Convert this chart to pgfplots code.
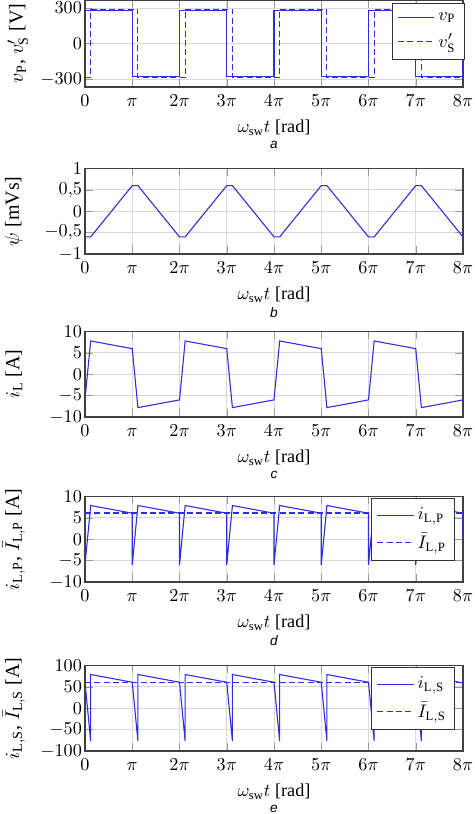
\documentclass[border=0pt]{standalone}
\usepackage{fontspec}
\setmainfont{Liberation Serif}
\newfontfamily\capfont{Liberation Sans}
\usepackage{pgfplots}
\pgfplotsset{compat=1.18}
\definecolor{mblue}{RGB}{45,45,225}
\pgfplotsset{
  myax/.style={
    scale only axis, width=207.9pt, height=47pt,
    xmin=0, xmax=8, xtick={0,1,...,8},
    xticklabels={$0$,$\pi$,$2\pi$,$3\pi$,$4\pi$,$5\pi$,$6\pi$,$7\pi$,$8\pi$},
    xticklabel style={text height=1.6ex},
    grid=major, grid style={black!15, line width=0.5pt},
    axis line style={black!75, line width=0.6pt},
    tick style={black!40},
    xlabel={$\omega_{\mathrm{sw}}t$ [rad]},
    every axis x label/.style={at={(rel axis cs:0.5,0)}, anchor=center, yshift=-22.5pt},
    every axis y label/.style={at={(rel axis cs:-0.188,0.5)}, anchor=center, rotate=90, font=\fontsize{11}{13}\selectfont},
    yticklabel style={inner xsep=1.5pt},
    legend style={draw=black!80, line width=0.6pt, font=\normalsize, at={(0.98,0.98)}, anchor=north east,
      row sep=2pt, inner xsep=3pt, inner ysep=3pt},
    legend cell align=left,
  },
  myline/.style={color=mblue, draw=mblue, line width=0.6pt, mark=none, solid,
    legend image code/.code={\draw[draw=mblue, line width=0.6pt, solid] (0cm,0cm) -- (0.7cm,0cm);}},
  mydash/.style={color=mblue, draw=mblue, line width=0.6pt, mark=none, dash pattern=on 3.3pt off 1.8pt,
    legend image code/.code={\draw[draw=mblue, line width=0.6pt, dash pattern=on 3.3pt off 1.8pt] (0cm,0cm) -- (0.7cm,0cm);}},
}
\newcommand{\subcap}[2]{\node[font=\capfont\itshape\fontsize{7.5}{9}\selectfont] at ([yshift=-32pt]#1.south) {#2};}
\begin{document}
\begin{tikzpicture}
\path[use as bounding box] (0,0) rectangle (260.7pt,-447.7pt);
% (a)
\begin{axis}[myax, name=pa, at={(46.75pt,-47.85pt)}, anchor=south west, height=47.85pt,
  ymin=-368, ymax=368, ytick={-300,0,300},
  ylabel={$v_\mathrm{P}$, $v'_\mathrm{S}$ [V]},
  every axis y label/.append style={at={(rel axis cs:-0.178,0.5)}},
  legend style={at={(1.005,0.97)}}]
\addplot[myline] coordinates {(0,280) (1,280) (1,-280) (2,-280) (2,280) (3,280) (3,-280) (4,-280) (4,280) (5,280) (5,-280) (6,-280) (6,280) (7,280) (7,-280) (8,-280) (8,0)};
\addlegendentry{$v_\mathrm{P}$}
\addplot[mydash] coordinates {(0,-290) (0.12,-290) (0.12,290) (1.12,290) (1.12,-290) (2.12,-290) (2.12,290) (3.12,290) (3.12,-290) (4.12,-290) (4.12,290) (5.12,290) (5.12,-290) (6.12,-290) (6.12,290) (7.12,290) (7.12,-290) (8,-290)};
\addlegendentry{$v'_\mathrm{S}$}
\end{axis}
\subcap{pa}{a}
% (b)
\begin{axis}[myax, name=pb, at={(46.75pt,-139.7pt)}, anchor=south west,
  ymin=-1, ymax=1, ytick={-1,-0.5,0,0.5,1},
  yticklabel style={/pgf/number format/use comma},
  ylabel={$\psi$ [mVs]}]
\addplot[myline] coordinates {(0,-0.6) (0.12,-0.6) (1,0.6) (1.12,0.6) (2,-0.6) (2.12,-0.6) (3,0.6) (3.12,0.6) (4,-0.6) (4.12,-0.6) (5,0.6) (5.12,0.6) (6,-0.6) (6.12,-0.6) (7,0.6) (7.12,0.6) (8,-0.6)};
\end{axis}
\subcap{pb}{b}
% (c)
\begin{axis}[myax, name=pc, at={(46.75pt,-229.35pt)}, anchor=south west,
  ymin=-10, ymax=10, ytick={-10,-5,0,5,10},
  ylabel={$i_\mathrm{L}$ [A]}]
\addplot[myline] coordinates {(0,-5.8) (0.12,7.8) (1,6) (1.12,-7.8) (2,-6) (2.12,7.8) (3,6) (3.12,-7.8) (4,-6) (4.12,7.8) (5,6) (5.12,-7.8) (6,-6) (6.12,7.8) (7,6) (7.12,-7.8) (8,-6)};
\end{axis}
\subcap{pc}{c}
% (d)
\begin{axis}[myax, name=pd, at={(46.75pt,-320.1pt)}, anchor=south west,
  ymin=-10, ymax=10, ytick={-10,-5,0,5,10},
  ylabel={$i_\mathrm{L,P}$, $\bar{I}_\mathrm{L,P}$ [A]}]
\addplot[myline] coordinates {(0,-6) (0.12,7.9) (1,6.1) (1,-6) (1.12,7.9) (2,6.1) (2,-6) (2.12,7.9) (3,6.1) (3,-6) (3.12,7.9) (4,6.1) (4,-6) (4.12,7.9) (5,6.1) (5,-6) (5.12,7.9) (6,6.1) (6,-6) (6.12,7.9) (7,6.1) (7,-6) (7.12,7.9) (8,6.1) (8,0)};
\addlegendentry{$i_\mathrm{L,P}$}
\addplot[mydash] coordinates {(0,6.15) (8,6.15)};
\addlegendentry{$\bar{I}_\mathrm{L,P}$}
\end{axis}
\subcap{pd}{d}
% (e)
\begin{axis}[myax, name=pe, at={(46.75pt,-413.05pt)}, anchor=south west,
  ymin=-100, ymax=100, ytick={-100,-50,0,50,100},
  ylabel={$i_\mathrm{L,S}$, $\bar{I}_\mathrm{L,S}$ [A]}]
\addplot[myline] coordinates {(0,61) (0.12,-77) (0.12,79) (1,61) (1.12,-77) (1.12,79) (2,61) (2.12,-77) (2.12,79) (3,61) (3.12,-77) (3.12,79) (4,61) (4.12,-77) (4.12,79) (5,61) (5.12,-77) (5.12,79) (6,61) (6.12,-77) (6.12,79) (7,61) (7.12,-77) (7.12,79) (8,59)};
\addlegendentry{$i_\mathrm{L,S}$}
\addplot[mydash] coordinates {(0,61) (8,61)};
\addlegendentry{$\bar{I}_\mathrm{L,S}$}
\end{axis}
\subcap{pe}{e}
\end{tikzpicture}
\end{document}
